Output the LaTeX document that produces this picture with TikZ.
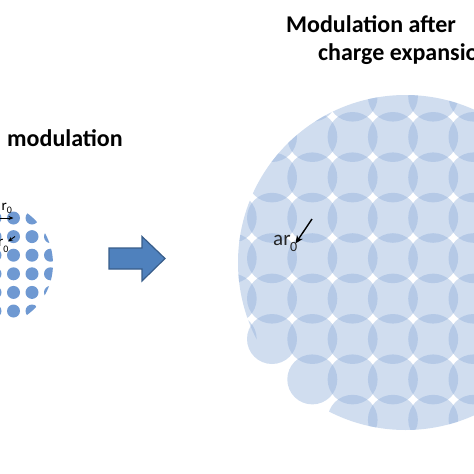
\documentclass[tikz,border=0pt]{standalone}
\usepackage{fontspec}
\setmainfont{Carlito}
\usetikzlibrary{arrows.meta}
\definecolor{lensblue}{RGB}{143,174,218}
\definecolor{dotblue}{RGB}{111,153,210}
\definecolor{arrowfill}{RGB}{79,129,189}
\definecolor{arrowline}{RGB}{56,93,138}
\tikzset{
  lens/.style={fill=lensblue, fill opacity=0.42},
  dotstyle/.style={fill=dotblue},
  titletext/.style={font=\fontsize{24}{28}\selectfont\bfseries, anchor=base west, inner sep=0},
  pointer/.style={-{Stealth[length=5pt,width=4pt]}, line width=0.9pt, black},
  bigpointer/.style={-{Stealth[length=8pt,width=7pt]}, line width=1.4pt, black},
}
\begin{document}
\begin{tikzpicture}[x=1pt,y=-1pt]
\useasboundingbox (0,0) rectangle (474,474);
\clip (0,0) rectangle (474,474);

% titles
\node[titletext] (ttl1) at (286,32) {Modulation after};
\node[titletext] (ttl2) at (318,60) {charge expansion};
\node[titletext] (ttl3) at (7,146.5) {modulation};

% left dot pattern
\begin{scope}
  \clip (-10,264) circle[radius=63];
  \foreach \i in {-1,...,2}{
    \foreach \j in {0,...,5}{
      \fill[dotstyle] ({13.5+18.5*\i},{218+18.6*\j}) circle[radius=6.5];
    }
  }
\end{scope}

% left labels
\node[anchor=base west, inner sep=0, font=\fontsize{15}{15}\selectfont] (r0lab) at (1.5,210) {r\raisebox{-3pt}{\fontsize{10}{10}\selectfont 0}};
\coordinate (r0a) at (0,218);
\coordinate (r0b) at (13.5,218);
\draw[pointer] (r0a) -- (r0b);
\node[anchor=base east, inner sep=0, font=\fontsize{15}{15}\selectfont] (ar0lab) at (3.5,246) {ar};
\node[anchor=base west, inner sep=0, font=\fontsize{10}{10}\selectfont] (ar0sub) at (3.2,252) {0};
\coordinate (ar0a) at (15,236.5);
\coordinate (ar0b) at (8,241.5);
\draw[pointer] (ar0a) -- (ar0b);

% block arrow
\draw[fill=arrowfill, draw=arrowline, line width=1.2pt, line join=miter]
  (109,248) -- (142,248) -- (142,236.5) -- (165,258.5) -- (142,281) -- (142,269) -- (109,269) -- cycle;

% right overlapping circles (clipped by the big disc)
\begin{scope}
  \clip (405.5,262.5) circle[radius=167.5];
  \foreach \i in {-1,...,7}{
    \foreach \j in {-2,...,8}{
      \pgfmathsetmacro{\cx}{272+40.3*\i}
      \pgfmathsetmacro{\cy}{137+40.4*\j}
      \pgfmathsetmacro{\dd}{sqrt(((\cx-406)/10)^2+((\cy-263)/10)^2)}
      \pgfmathtruncatemacro{\ok}{and(\dd<19.4, not(or(and(\i==0,\j==6), or(and(\i==1,\j==7), or(and(\i==0,\j==5), and(\i==1,\j==6))))))}
      \ifnum\ok=1
        \fill[lens] (\cx,\cy) circle[radius=25];
      \fi
    }
  }
\end{scope}
% lower-left cells that stand out of the disc
\fill[lens] (272,339) circle[radius=25];
\fill[lens] (312.3,379.4) circle[radius=25];

% ar0 label on the right
\node[anchor=base west, inner sep=0, font=\fontsize{21}{21}\selectfont, text=black!85] (bigar) at (273,245) {ar};
\node[anchor=base west, inner sep=0, font=\fontsize{14}{14}\selectfont, text=black!85] (bigsub) at (290,251) {0};
\coordinate (bga) at (312,219);
\coordinate (bgb) at (295.5,243.5);
\draw[bigpointer] (bga) -- (bgb);
\end{tikzpicture}
\end{document}
